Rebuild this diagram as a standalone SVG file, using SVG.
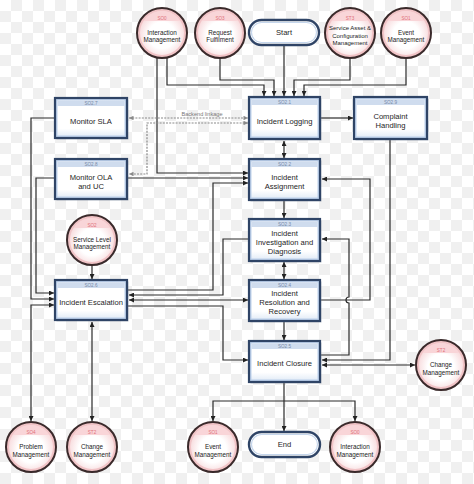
<svg xmlns="http://www.w3.org/2000/svg" width="474" height="484" viewBox="0 0 474 484">
<defs>
<pattern id="chk" width="22" height="22" patternUnits="userSpaceOnUse">
<rect width="22" height="22" fill="#ffffff"/>
<rect x="11" y="0" width="11" height="11" fill="#f0f0f0"/>
<rect x="0" y="11" width="11" height="11" fill="#f0f0f0"/>
</pattern>
<linearGradient id="bx" x1="0" y1="0" x2="0" y2="1">
<stop offset="0" stop-color="#ffffff"/><stop offset="0.8" stop-color="#ffffff"/><stop offset="1" stop-color="#e6eef8"/>
</linearGradient>
<radialGradient id="cg" cx="0.5" cy="0.55" r="0.55">
<stop offset="0.55" stop-color="#ffffff"/><stop offset="1" stop-color="#f7d9db"/>
</radialGradient>
<marker id="a" viewBox="0 0 6 6" refX="6" refY="3" markerWidth="5.5" markerHeight="5" orient="auto-start-reverse" markerUnits="userSpaceOnUse"><path d="M0,0 L6,3 L0,6 z" fill="#222"/></marker>
<marker id="g" viewBox="0 0 6 6" refX="6" refY="3" markerWidth="5" markerHeight="4.5" orient="auto-start-reverse" markerUnits="userSpaceOnUse"><path d="M0,0 L6,3 L0,6 z" fill="#8a8a8a"/></marker>
</defs>
<style>
.sh{fill:#7f8a99;opacity:.45}
.bo{fill:#bcd0ea;stroke:#2f4466;stroke-width:2.2}
.bi{fill:url(#bx)}
.hd{fill:#cfdcee}
.cd{font-family:"Liberation Sans",Arial,sans-serif;font-size:4.6px;fill:#7688a6;text-anchor:middle}
.lb{font-family:"Liberation Sans",Arial,sans-serif;font-size:7.6px;fill:#1e1e1e;text-anchor:middle}
.co{fill:#f1c4c7;stroke:#3a2a2b;stroke-width:2}
.ci{fill:url(#cg)}
.cb{fill:#f9d5d8}
.cc{font-family:"Liberation Sans",Arial,sans-serif;font-size:4.6px;fill:#e0707a;text-anchor:middle}
.cl{font-family:"Liberation Sans",Arial,sans-serif;font-size:6.3px;fill:#222;text-anchor:middle}
.cs{font-size:6px}
.pl{fill:#ffffff;stroke:#2f4466;stroke-width:2.4}
.pi{fill:none;stroke:#c5d6ec;stroke-width:1.2}
.e{fill:none;stroke:#2a2a2a;stroke-width:1.2}
.d{fill:none;stroke:#8a8a8a;stroke-width:1.2;stroke-dasharray:2 1.2}
.bl{font-family:"Liberation Sans",Arial,sans-serif;font-size:5.6px;fill:#7a7a7a;text-anchor:middle}
</style>
<rect width="474" height="484" fill="url(#chk)"/>

<g id="connectors">
<path class="e" d="M157,58 V173 H248" marker-end="url(#a)"/>
<path class="e" d="M167,57 V85 H264 V96" marker-end="url(#a)"/>
<path class="e" d="M220,58 V80 H274 V96" marker-end="url(#a)"/>
<path class="e" d="M284,45 V96" marker-end="url(#a)"/>
<path class="e" d="M350,58 V80 H294 V96" marker-end="url(#a)"/>
<path class="e" d="M406,58 V85 H304 V96" marker-end="url(#a)"/>
<path class="e" d="M321,118 H353" marker-end="url(#a)"/>
<path class="e" d="M284,141 V158" marker-start="url(#a)" marker-end="url(#a)"/>
<path class="e" d="M284,201 V218" marker-end="url(#a)"/>
<path class="e" d="M284,262 V279" marker-start="url(#a)" marker-end="url(#a)"/>
<path class="e" d="M284,322 V340" marker-end="url(#a)"/>
<path class="e" d="M284,383 V431" marker-end="url(#a)"/>
<path class="e" d="M284,401 H213 V421" marker-end="url(#a)"/>
<path class="e" d="M284,401 H355 V421" marker-end="url(#a)"/>
<path class="d" d="M129,118 H248" marker-start="url(#g)" marker-end="url(#g)"/>
<path class="d" d="M248,123 H147 V174 H129" marker-start="url(#g)" marker-end="url(#g)"/>
<path class="e" d="M128,178 H248" marker-end="url(#a)"/>
<path class="e" d="M128,290 H213 V183 H248" marker-end="url(#a)"/>
<path class="e" d="M249,239 H223 V295 H129" marker-end="url(#a)"/>
<path class="e" d="M129,300 H248" marker-start="url(#a)" marker-end="url(#a)"/>
<path class="e" d="M128,306 H223 V360 H248" marker-end="url(#a)"/>
<path class="e" d="M55,118 H31 V299 H54" marker-end="url(#a)"/>
<path class="e" d="M55,178 H36 V293 H54" marker-end="url(#a)"/>
<path class="e" d="M54,305 H31 V421" marker-start="url(#a)" marker-end="url(#a)"/>
<path class="e" d="M92,322 V421" marker-start="url(#a)" marker-end="url(#a)"/>
<path class="e" d="M92,265 V279" marker-end="url(#a)"/>
<path class="e" d="M321,300 H370 V179 H322" marker-end="url(#a)"/>
<path class="e" d="M321,355 H349 V303 A3,3 0 0 1 349,297 V239 H322" marker-end="url(#a)"/>
<path class="e" d="M390,140 V360 H322" marker-end="url(#a)"/>
<path class="e" d="M322,365 H415" marker-start="url(#a)" marker-end="url(#a)"/>
<text class="bl" x="202" y="115.5">Backend linkage</text>
</g>

<g id="interaction-management-top">
<circle class="co" cx="162" cy="33" r="25"/><circle class="ci" cx="162" cy="33" r="22"/>
<path class="cb" d="M146.2,17.7 A22,22 0 0 1 177.8,17.7 L180.3,21 H143.7 Z"/>
<text class="cc" x="162" y="20">SO0</text>
<text class="cl" x="162" y="34.5">Interaction</text><text class="cl" x="162" y="41.5">Management</text>
</g>
<g id="request-fulfilment">
<circle class="co" cx="220" cy="33" r="25"/><circle class="ci" cx="220" cy="33" r="22"/>
<path class="cb" d="M204.2,17.7 A22,22 0 0 1 235.8,17.7 L238.3,21 H201.7 Z"/>
<text class="cc" x="220" y="20">SO3</text>
<text class="cl" x="220" y="34.5">Request</text><text class="cl" x="220" y="41.5">Fulfilment</text>
</g>
<g id="start">
<rect class="pl" x="249" y="20" width="70" height="25" rx="12.5"/>
<rect class="pi" x="251.5" y="22.5" width="65" height="20" rx="10"/>
<text class="lb" x="284" y="35">Start</text>
</g>
<g id="service-asset-config">
<circle class="co" cx="350" cy="33" r="25"/><circle class="ci" cx="350" cy="33" r="22"/>
<path class="cb" d="M334.2,17.7 A22,22 0 0 1 365.8,17.7 L368.3,21 H331.7 Z"/>
<text class="cc" x="350" y="20">ST3</text>
<text class="cl cs" x="350" y="30">Service Asset &amp;</text><text class="cl cs" x="350" y="37.5">Configuration</text><text class="cl cs" x="350" y="45">Management</text>
</g>
<g id="event-management-top">
<circle class="co" cx="406" cy="33" r="25"/><circle class="ci" cx="406" cy="33" r="22"/>
<path class="cb" d="M390.2,17.7 A22,22 0 0 1 421.8,17.7 L424.3,21 H387.7 Z"/>
<text class="cc" x="406" y="20">SO1</text>
<text class="cl" x="406" y="34.5">Event</text><text class="cl" x="406" y="41.5">Management</text>
</g>

<g id="incident-logging">
<rect class="sh" x="250.5" y="98.5" width="71" height="42"/>
<rect class="bo" x="249" y="97" width="71" height="42"/><rect class="bi" x="251.5" y="99.5" width="66" height="37"/><rect class="hd" x="251.5" y="99.5" width="66" height="5.5"/>
<text class="cd" x="284.5" y="104">SO2.1</text>
<text class="lb" x="284.5" y="123.5">Incident Logging</text>
</g>
<g id="complaint-handling">
<rect class="sh" x="355.5" y="98.5" width="73" height="42"/>
<rect class="bo" x="354" y="97" width="73" height="42"/><rect class="bi" x="356.5" y="99.5" width="68" height="37"/><rect class="hd" x="356.5" y="99.5" width="68" height="5.5"/>
<text class="cd" x="390.5" y="104">SO2.9</text>
<text class="lb" x="390.5" y="118.5">Complaint</text><text class="lb" x="390.5" y="127.5">Handling</text>
</g>
<g id="monitor-sla">
<rect class="sh" x="56.5" y="99.5" width="72" height="40"/>
<rect class="bo" x="55" y="98" width="72" height="40"/><rect class="bi" x="57.5" y="100.5" width="67" height="35"/><rect class="hd" x="57.5" y="100.5" width="67" height="5.5"/>
<text class="cd" x="91" y="105">SO2.7</text>
<text class="lb" x="91" y="123.5">Monitor SLA</text>
</g>
<g id="monitor-ola">
<rect class="sh" x="56.5" y="160.5" width="72" height="40"/>
<rect class="bo" x="55" y="159" width="72" height="40"/><rect class="bi" x="57.5" y="161.5" width="67" height="35"/><rect class="hd" x="57.5" y="161.5" width="67" height="5.5"/>
<text class="cd" x="91" y="166">SO2.8</text>
<text class="lb" x="91" y="179.5">Monitor OLA</text><text class="lb" x="91" y="188.5">and UC</text>
</g>
<g id="incident-assignment">
<rect class="sh" x="250.5" y="160.5" width="71" height="41"/>
<rect class="bo" x="249" y="159" width="71" height="41"/><rect class="bi" x="251.5" y="161.5" width="66" height="36"/><rect class="hd" x="251.5" y="161.5" width="66" height="5.5"/>
<text class="cd" x="284.5" y="166">SO2.2</text>
<text class="lb" x="284.5" y="179.5">Incident</text><text class="lb" x="284.5" y="188.5">Assignment</text>
</g>
<g id="incident-investigation">
<rect class="sh" x="250.5" y="220.5" width="71" height="42"/>
<rect class="bo" x="249" y="219" width="71" height="42"/><rect class="bi" x="251.5" y="221.5" width="66" height="37"/><rect class="hd" x="251.5" y="221.5" width="66" height="5.5"/>
<text class="cd" x="284.5" y="226">SO2.3</text>
<text class="lb" x="284.5" y="235.5">Incident</text><text class="lb" x="284.5" y="244.5">Investigation and</text><text class="lb" x="284.5" y="253.5">Diagnosis</text>
</g>
<g id="incident-resolution">
<rect class="sh" x="250.5" y="281.5" width="71" height="41"/>
<rect class="bo" x="249" y="280" width="71" height="41"/><rect class="bi" x="251.5" y="282.5" width="66" height="36"/><rect class="hd" x="251.5" y="282.5" width="66" height="5.5"/>
<text class="cd" x="284.5" y="287">SO2.4</text>
<text class="lb" x="284.5" y="295.5">Incident</text><text class="lb" x="284.5" y="304.5">Resolution and</text><text class="lb" x="284.5" y="313.5">Recovery</text>
</g>
<g id="incident-closure">
<rect class="sh" x="250.5" y="342.5" width="71" height="41"/>
<rect class="bo" x="249" y="341" width="71" height="41"/><rect class="bi" x="251.5" y="343.5" width="66" height="36"/><rect class="hd" x="251.5" y="343.5" width="66" height="5.5"/>
<text class="cd" x="284.5" y="348">SO2.5</text>
<text class="lb" x="284.5" y="365.5">Incident Closure</text>
</g>
<g id="service-level-management">
<circle class="co" cx="92" cy="240" r="25"/><circle class="ci" cx="92" cy="240" r="22"/>
<path class="cb" d="M76.2,224.7 A22,22 0 0 1 107.8,224.7 L110.3,228 H73.7 Z"/>
<text class="cc" x="92" y="227">SO2</text>
<text class="cl" x="92" y="241.5">Service Level</text><text class="cl" x="92" y="249">Management</text>
</g>
<g id="incident-escalation">
<rect class="sh" x="56.5" y="281.5" width="72" height="40"/>
<rect class="bo" x="55" y="280" width="72" height="40"/><rect class="bi" x="57.5" y="282.5" width="67" height="35"/><rect class="hd" x="57.5" y="282.5" width="67" height="5.5"/>
<text class="cd" x="91" y="287">SO2.6</text>
<text class="lb" x="91" y="304.5">Incident Escalation</text>
</g>
<g id="change-management-right">
<circle class="co" cx="441" cy="365" r="25"/><circle class="ci" cx="441" cy="365" r="22"/>
<path class="cb" d="M425.2,349.7 A22,22 0 0 1 456.8,349.7 L459.3,353 H422.7 Z"/>
<text class="cc" x="441" y="352">ST2</text>
<text class="cl" x="441" y="367">Change</text><text class="cl" x="441" y="374.5">Management</text>
</g>
<g id="problem-management">
<circle class="co" cx="31" cy="447" r="25"/><circle class="ci" cx="31" cy="447" r="22"/>
<path class="cb" d="M15.2,431.7 A22,22 0 0 1 46.8,431.7 L49.3,435 H12.7 Z"/>
<text class="cc" x="31" y="434">SO4</text>
<text class="cl" x="31" y="449">Problem</text><text class="cl" x="31" y="456.5">Management</text>
</g>
<g id="change-management-bottom">
<circle class="co" cx="92" cy="447" r="25"/><circle class="ci" cx="92" cy="447" r="22"/>
<path class="cb" d="M76.2,431.7 A22,22 0 0 1 107.8,431.7 L110.3,435 H73.7 Z"/>
<text class="cc" x="92" y="434">ST2</text>
<text class="cl" x="92" y="449">Change</text><text class="cl" x="92" y="456.5">Management</text>
</g>
<g id="event-management-bottom">
<circle class="co" cx="213" cy="447" r="25"/><circle class="ci" cx="213" cy="447" r="22"/>
<path class="cb" d="M197.2,431.7 A22,22 0 0 1 228.8,431.7 L231.3,435 H194.7 Z"/>
<text class="cc" x="213" y="434">SO1</text>
<text class="cl" x="213" y="449">Event</text><text class="cl" x="213" y="456.5">Management</text>
</g>
<g id="end">
<rect class="pl" x="249" y="432" width="71" height="25" rx="12.5"/>
<rect class="pi" x="251.5" y="434.5" width="66" height="20" rx="10"/>
<text class="lb" x="284.5" y="447">End</text>
</g>
<g id="interaction-management-bottom">
<circle class="co" cx="355" cy="447" r="25"/><circle class="ci" cx="355" cy="447" r="22"/>
<path class="cb" d="M339.2,431.7 A22,22 0 0 1 370.8,431.7 L373.3,435 H336.7 Z"/>
<text class="cc" x="355" y="434">SO0</text>
<text class="cl" x="355" y="449">Interaction</text><text class="cl" x="355" y="456.5">Management</text>
</g>
</svg>
